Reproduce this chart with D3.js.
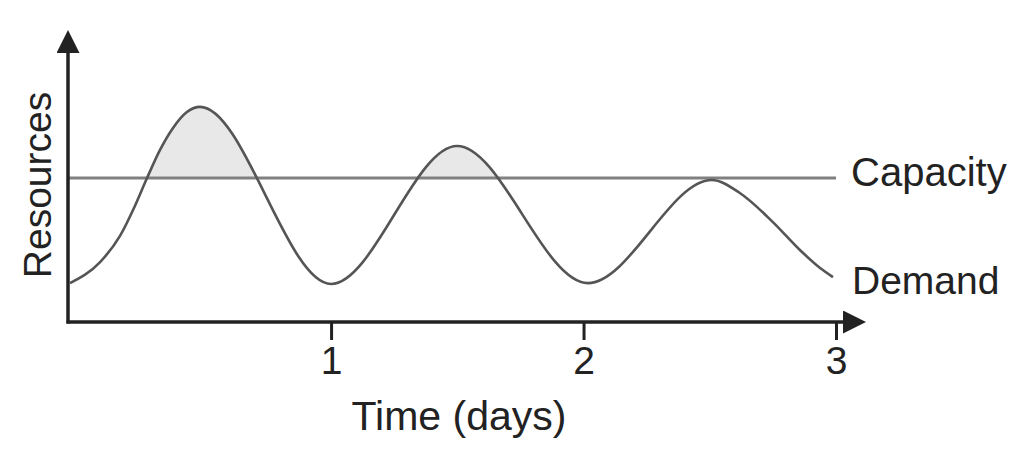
<!DOCTYPE html>
<html>
<head>
<meta charset="utf-8">
<script src="https://cdn.jsdelivr.net/npm/d3@7"></script>
<style>
  html, body { margin: 0; padding: 0; background: #fff; }
  svg { display: block; }
  text { font-family: "Liberation Sans", Arial, sans-serif; fill: #222; }
</style>
</head>
<body>
<svg id="chart" width="1024" height="452"></svg>
<script>
// ---- Data ----
const demandDays   = [-0.034, 0.085, 0.164, 0.223, 0.271, 0.322, 0.374, 0.429, 0.481, 1.0,  1.499, 2.017, 2.508, 2.619, 2.75, 2.857, 2.937, 2.988];
const demandValues = [1.35,   2.08,  2.99,  4.03,  5.0,   5.97,  6.74,  7.29,  7.47,  1.32, 6.11,  1.35,  4.93,  4.48,  3.47, 2.5,   1.875, 1.56];
const capacityValue = 5;
const xTicks = [1, 2, 3];
const xTickLabels = ["1", "2", "3"];
const seriesLabels = ["Capacity", "Demand"];
const xTitle = "Time (days)";
const yTitle = "Resources";

const svg = d3.select("#chart");

const x = d3.scaleLinear().domain([-0.042, 3]).range([68, 836]);
const y = d3.scaleLinear().domain([0, 10]).range([322, 34]);

const demand = demandDays.map((d, i) => ({ day: d, v: demandValues[i] }));
const curve = d3.curveMonotoneX;

const defs = svg.append("defs");
defs.append("clipPath").attr("id", "above")
  .append("rect")
  .attr("x", x.range()[0]).attr("y", 0)
  .attr("width", x.range()[1] - x.range()[0])
  .attr("height", y(capacityValue));

defs.append("marker")
  .attr("id", "arrow")
  .attr("viewBox", "0 0 10 10")
  .attr("refX", 0).attr("refY", 5)
  .attr("markerUnits", "userSpaceOnUse")
  .attr("markerWidth", 23).attr("markerHeight", 23)
  .attr("orient", "auto")
  .append("path")
  .attr("d", "M0,0 L10,5 L0,10 Z")
  .attr("fill", "#222");

// overload fill
const area = d3.area()
  .x(d => x(d.day))
  .y0(y(capacityValue))
  .y1(d => y(d.v))
  .curve(curve);
svg.append("path")
  .datum(demand)
  .attr("d", area)
  .attr("clip-path", "url(#above)")
  .attr("fill", "#e8e8e8");

// capacity line
svg.append("line")
  .attr("x1", x.range()[0]).attr("x2", x(3))
  .attr("y1", y(capacityValue)).attr("y2", y(capacityValue))
  .attr("stroke", "#808080").attr("stroke-width", 3);

// demand curve
const line = d3.line().x(d => x(d.day)).y(d => y(d.v)).curve(curve);
svg.append("path")
  .datum(demand)
  .attr("d", line)
  .attr("fill", "none")
  .attr("stroke", "#555")
  .attr("stroke-width", 2.6);

// x axis ticks
const xAxis = d3.axisBottom(x)
  .tickValues(xTicks)
  .tickFormat((d, i) => xTickLabels[i])
  .tickSize(18)
  .tickSizeOuter(0)
  .tickPadding(6);
const gx = svg.append("g")
  .attr("transform", `translate(0,${y(0)})`)
  .call(xAxis);
gx.select(".domain").remove();
gx.selectAll(".tick line").attr("stroke", "#222").attr("stroke-width", 3);
gx.selectAll(".tick text")
  .attr("font-size", 39)
  .attr("font-family", "Liberation Sans, Arial, sans-serif")
  .attr("fill", "#222");

// axis lines with arrows
svg.append("line")
  .attr("x1", x.range()[0] - 1.5).attr("y1", y(0))
  .attr("x2", 843).attr("y2", y(0))
  .attr("stroke", "#222").attr("stroke-width", 3.5)
  .attr("marker-end", "url(#arrow)");
svg.append("line")
  .attr("x1", x.range()[0]).attr("y1", y(0) + 1.5)
  .attr("x2", x.range()[0]).attr("y2", 53)
  .attr("stroke", "#222").attr("stroke-width", 3.5)
  .attr("marker-end", "url(#arrow)");

// series labels
svg.append("text")
  .attr("x", 851).attr("y", 186)
  .attr("font-size", 40)
  .text(seriesLabels[0]);
svg.append("text")
  .attr("x", 852).attr("y", 294)
  .attr("font-size", 39)
  .text(seriesLabels[1]);

// axis titles
svg.append("text")
  .attr("x", 459).attr("y", 430)
  .attr("text-anchor", "middle")
  .attr("font-size", 41)
  .text(xTitle);
svg.append("text")
  .attr("transform", "translate(51,185) rotate(-90)")
  .attr("text-anchor", "middle")
  .attr("font-size", 39)
  .text(yTitle);
</script>
</body>
</html>
